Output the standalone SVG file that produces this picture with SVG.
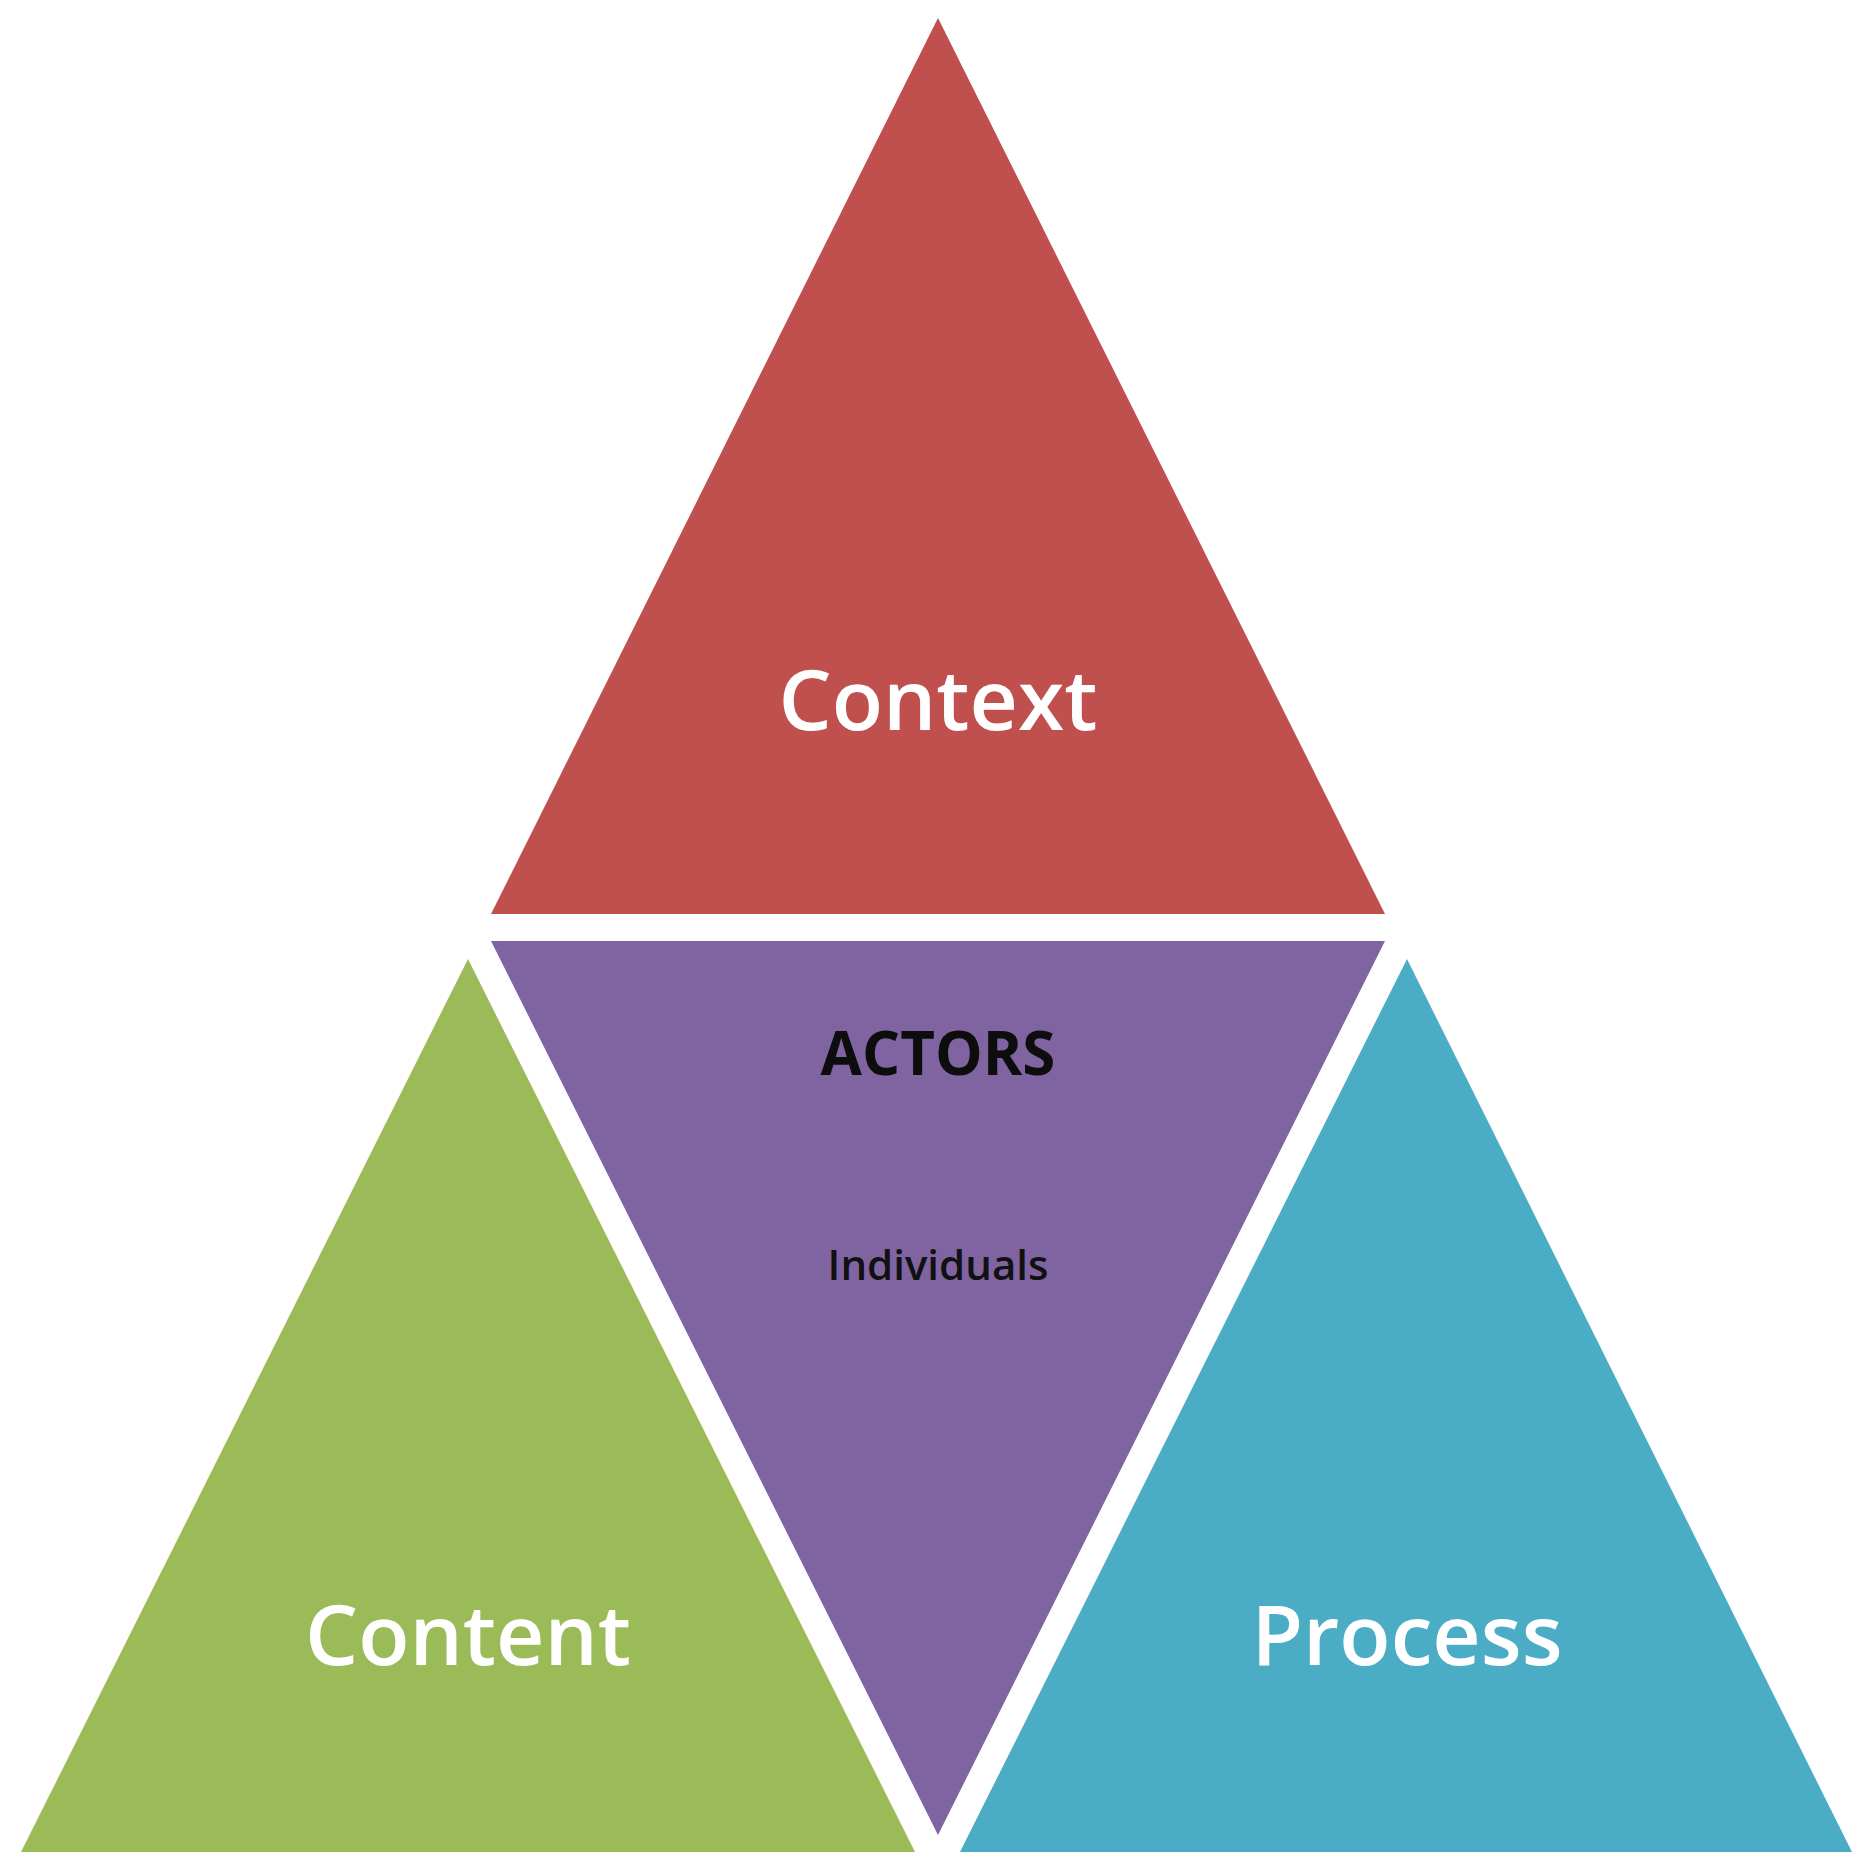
<svg xmlns="http://www.w3.org/2000/svg" width="1868" height="1868" viewBox="0 0 1868 1868">
<style>
.t{font-family:"Open Sans","Noto Sans","Liberation Sans",sans-serif;text-anchor:middle}
.big{font-size:84px;fill:#fff;font-weight:600}
</style>
<rect width="1868" height="1868" fill="#fff"/>
<g id="context"><polygon points="938,18 1385,914 491,914" fill="#C0504D"/><text class="t big" x="938" y="730">Context</text></g>
<g id="actors"><polygon points="491,941 1385,941 938,1835" fill="#8064A2"/>
<text class="t" x="938" y="1075" font-size="60" font-weight="700" fill="#0d0d0d">ACTORS</text>
<text class="t" x="938" y="1280" font-size="42" font-weight="600" fill="#111">Individuals</text></g>
<g id="content"><polygon points="468,959 915,1852 21,1852" fill="#9BBB59"/><text class="t big" x="468" y="1665">Content</text></g>
<g id="process"><polygon points="1407,959 1852,1852 960,1852" fill="#4BACC6"/><text class="t big" x="1407" y="1665">Process</text></g>
<g id="connectors"/>
</svg>
